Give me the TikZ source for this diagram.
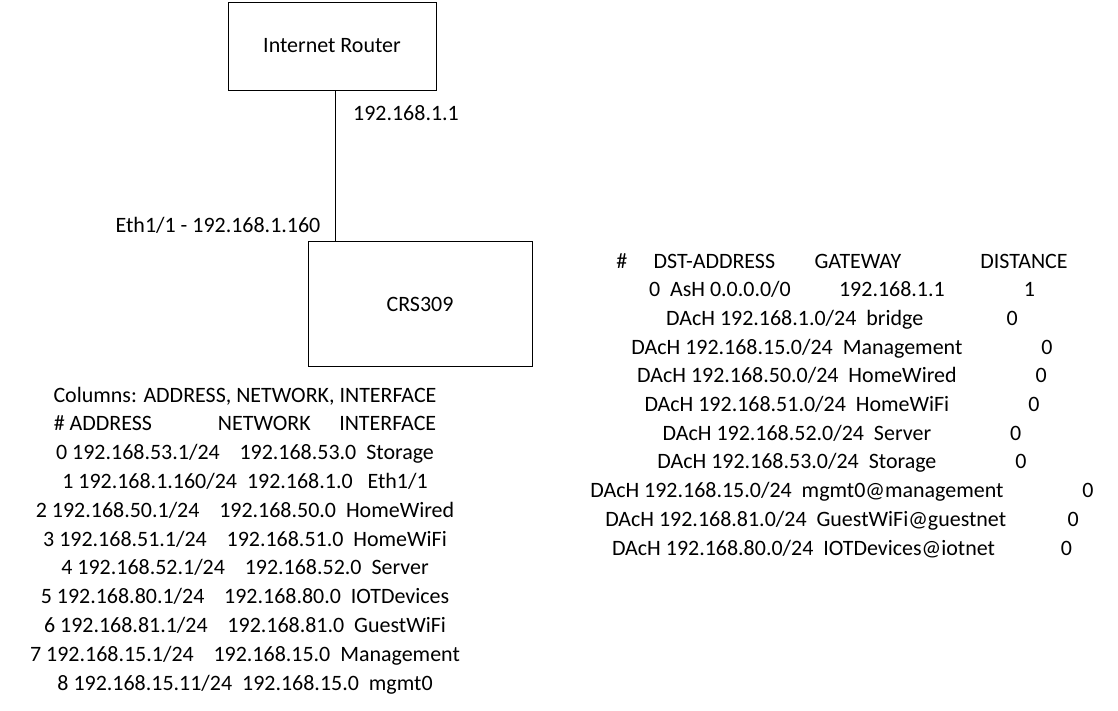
\documentclass[tikz,border=0pt]{standalone}
\usepackage{fontspec}
\setmainfont{Carlito}
\begin{document}
\begin{tikzpicture}[
        x=0.02cm, y=-0.02cm,
        device/.style = {draw, minimum width=4.16cm, minimum height=1.76cm, font=\fontsize{12.5}{14}\selectfont},
        row/.style = {inner sep=0pt, anchor=base, font=\fontsize{12.5}{14}\selectfont},
        link/.style = {draw},
    ]
    \useasboundingbox (0,0) rectangle (1118,710);
    % devices
    \node[device] (router) at (332,46) {Internet Router};
    \node[device, minimum width=4.48cm, minimum height=2.5cm] (crs) at (420,304) {CRS309};
    \coordinate (up) at (335,90);
    \coordinate (down) at (335,242);
    \path[link] (up) -- (down);
    \node[row] (gw) at (406,120) {192.168.1.1};
    \node[row] (eth) at (218,232) {Eth1/1 - 192.168.1.160};
    % address table
    \foreach \i/\txt in {
            0/{Columns: ADDRESS, NETWORK, INTERFACE},
            1/{\# ADDRESS\hspace{3em}NETWORK\hspace{1.3em}INTERFACE},
            2/{0 192.168.53.1/24\hspace{0.9em}192.168.53.0\ \ Storage},
            3/{1 192.168.1.160/24\ \ 192.168.1.0\ \ \ Eth1/1},
            4/{2 192.168.50.1/24\hspace{0.9em}192.168.50.0\ \ HomeWired},
            5/{3 192.168.51.1/24\hspace{0.9em}192.168.51.0\ \ HomeWiFi},
            6/{4 192.168.52.1/24\hspace{0.9em}192.168.52.0\ \ Server},
            7/{5 192.168.80.1/24\hspace{0.9em}192.168.80.0\ \ IOTDevices},
            8/{6 192.168.81.1/24\hspace{0.9em}192.168.81.0\ \ GuestWiFi},
            9/{7 192.168.15.1/24\hspace{0.9em}192.168.15.0\ \ Management},
            10/{8 192.168.15.11/24\ \ 192.168.15.0\ \ mgmt0}}
        \node[row] (addr\i) at (245,402+28.8*\i) {\txt};
    % route table
    \foreach \i/\txt in {
            0/{\#\hspace{1.2em}DST-ADDRESS\hspace{1.8em}GATEWAY\hspace{3.6em}DISTANCE},
            1/{0\ \ AsH 0.0.0.0/0\hspace{2.2em}192.168.1.1\hspace{3.6em}1},
            2/{DAcH 192.168.1.0/24\ \ bridge\hspace{3.8em}0},
            3/{DAcH 192.168.15.0/24\ \ Management\hspace{3.6em}0},
            4/{DAcH 192.168.50.0/24\ \ HomeWired\hspace{3.6em}0},
            5/{DAcH 192.168.51.0/24\ \ HomeWiFi\hspace{3.6em}0},
            6/{DAcH 192.168.52.0/24\ \ Server\hspace{3.6em}0},
            7/{DAcH 192.168.53.0/24\ \ Storage\hspace{3.6em}0},
            8/{DAcH 192.168.15.0/24\ \ mgmt0@management\hspace{3.6em}0},
            9/{DAcH 192.168.81.0/24\ \ GuestWiFi@guestnet\hspace{2.8em}0},
            10/{DAcH 192.168.80.0/24\ \ IOTDevices@iotnet\hspace{3em}0}}
        \node[row] (route\i) at (842,268+28.7*\i) {\txt};
\end{tikzpicture}
\end{document}
